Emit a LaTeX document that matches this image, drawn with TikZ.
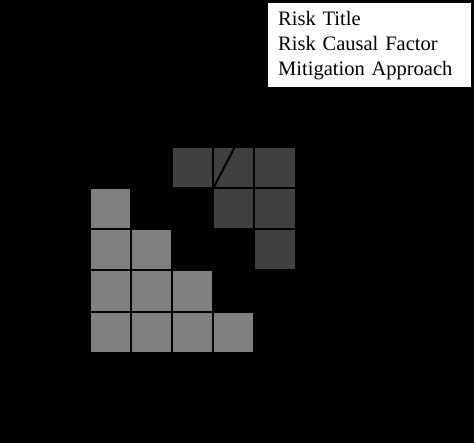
\documentclass[tikz,border=0pt]{standalone}
\usepackage{fontspec}
\setmainfont{Liberation Serif}
\usetikzlibrary{calc}
\begin{document}
\begin{tikzpicture}[x=1pt,y=-1pt,
  sq/.style={draw=none,inner sep=0pt,minimum width=39.4pt,minimum height=39.4pt,anchor=north west},
  lsq/.style={sq,fill=lightsq},
  dsq/.style={sq,fill=darksq},
  legendbox/.style={fill=white,draw=none,anchor=north west,inner xsep=10.7pt,inner ysep=0pt,
    minimum width=203.4pt,minimum height=84pt,text width=182pt,align=left,
    font=\fontsize{20.5}{24.7}\selectfont}]
\definecolor{lightsq}{RGB}{128,128,128}
\definecolor{darksq}{RGB}{64,64,64}
\fill[black] (0,0) rectangle (474,443);
\useasboundingbox (0,0) rectangle (474,443);
\def\px#1{\fpeval{90.7+41.05*#1}}
\def\py#1{\fpeval{147.4+41.25*#1}}
% light squares (row, col)
\foreach \r/\c in {1/0,2/0,3/0,4/0,2/1,3/1,4/1,3/2,4/2,4/3}{
  \node[lsq] (l\r\c) at (\px{\c},\py{\r}) {};
}
% dark squares
\foreach \r/\c in {0/2,0/3,0/4,1/3,1/4,2/4}{
  \node[dsq] (d\r\c) at (\px{\c},\py{\r}) {};
}
\coordinate (slashtop) at ($(d03.north west)!0.52!(d03.north east)$);
\draw[black,line width=2pt] (slashtop) -- (d03.south west);
\node[legendbox] (legend) at (267.3,3.3) {Risk Title\\Risk Causal Factor\\Mitigation Approach};
\end{tikzpicture}
\end{document}
